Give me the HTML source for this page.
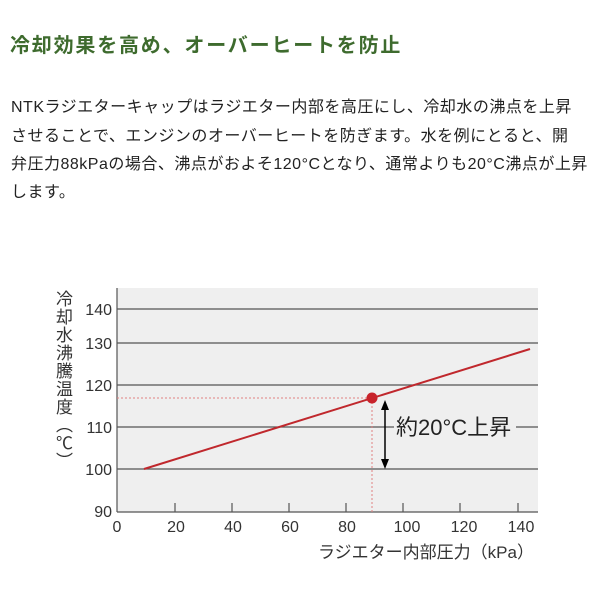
<!DOCTYPE html>
<html><head><meta charset="utf-8"><style>
body{margin:0;width:600px;height:600px;background:#fff;position:relative;overflow:hidden;font-family:"Liberation Sans","Noto Sans CJK JP",sans-serif;}
.t{position:absolute;left:10px;top:29px;font-size:20px;font-weight:bold;color:#3e6b2e;letter-spacing:1.8px;white-space:nowrap}
.p{position:absolute;left:11px;font-size:16px;color:#222;white-space:nowrap;line-height:20px;letter-spacing:0.5px}
.yl{position:absolute;left:51px;top:290px;writing-mode:vertical-rl;font-size:17px;line-height:22px;color:#333;letter-spacing:1px}
</style></head><body>
<div class="t">冷却効果を高め、オーバーヒートを防止</div>
<div class="p" style="top:98px">NTKラジエターキャップはラジエター内部を高圧にし、冷却水の沸点を上昇</div>
<div class="p" style="top:127px">させることで、エンジンのオーバーヒートを防ぎます。水を例にとると、開</div>
<div class="p" style="top:155px">弁圧力88kPaの場合、沸点がおよそ120°Cとなり、通常よりも20°C沸点が上昇</div>
<div class="p" style="top:183px">します。</div>
<div class="yl">冷却水沸騰温度（℃）</div>
<svg style="position:absolute;left:0;top:0" width="600" height="600" font-family="Liberation Sans, Noto Sans CJK JP, sans-serif">
<rect x="117" y="288" width="421" height="224" fill="#efefef"/>
<g stroke="#555" stroke-width="1.2">
<line x1="117" y1="309" x2="538" y2="309"/>
<line x1="117" y1="343" x2="538" y2="343"/>
<line x1="117" y1="385" x2="538" y2="385"/>
<line x1="117" y1="427" x2="538" y2="427"/>
<line x1="117" y1="469" x2="538" y2="469"/>
<line x1="117" y1="512" x2="538" y2="512"/>
<line x1="117" y1="288" x2="117" y2="512"/>
<line x1="175" y1="503" x2="175" y2="512"/><line x1="232" y1="503" x2="232" y2="512"/>
<line x1="289" y1="503" x2="289" y2="512"/><line x1="346" y1="503" x2="346" y2="512"/>
<line x1="403" y1="503" x2="403" y2="512"/><line x1="460" y1="503" x2="460" y2="512"/>
<line x1="518" y1="503" x2="518" y2="512"/>
</g>
<g font-size="16" fill="#333" text-anchor="end">
<text x="112" y="315">140</text><text x="112" y="349">130</text><text x="112" y="391">120</text>
<text x="112" y="433">110</text><text x="112" y="475">100</text><text x="112" y="517">90</text>
</g>
<g font-size="16" fill="#333" text-anchor="middle">
<text x="117" y="532">0</text><text x="176" y="532">20</text><text x="233" y="532">40</text><text x="290" y="532">60</text>
<text x="347" y="532">80</text><text x="407" y="532">100</text><text x="464" y="532">120</text><text x="521" y="532">140</text>
</g>
<text x="318" y="558" font-size="17" fill="#333">ラジエター内部圧力（kPa）</text>
<line x1="117" y1="398" x2="372" y2="398" stroke="#e08080" stroke-width="1" stroke-dasharray="2,2"/>
<line x1="372" y1="398" x2="372" y2="512" stroke="#e08080" stroke-width="1" stroke-dasharray="2,2"/>
<line x1="144" y1="469" x2="530" y2="349" stroke="#c0282d" stroke-width="2"/>
<circle cx="372" cy="398" r="5.5" fill="#c8232b"/>
<line x1="385" y1="403" x2="385" y2="464" stroke="#000" stroke-width="1.5"/>
<path d="M381 410 L385 400 L389 410 Z M381 459 L385 469 L389 459 Z" fill="#000"/>
<rect x="394" y="412" width="122" height="30" fill="#efefef"/>
<text x="396" y="435" font-size="22" fill="#222">約20°C上昇</text>
</svg>
</body></html>
